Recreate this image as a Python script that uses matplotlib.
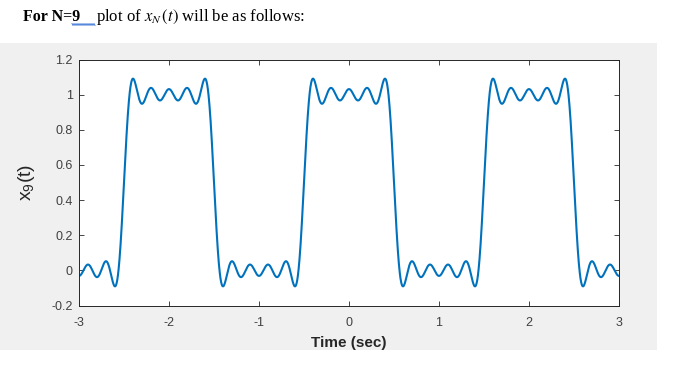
import numpy as np
import matplotlib
matplotlib.use("Agg")
import matplotlib.pyplot as plt
from matplotlib.patches import Rectangle
from matplotlib.lines import Line2D
from matplotlib.ticker import FuncFormatter

# Data: Fourier series of a 0/1 square wave (period 2 s), N = 9 harmonics
dc_value = 0.5
harmonic_numbers = [1, 2, 3, 4, 5, 6, 7, 8, 9]
harmonic_amplitudes = [0.6366, 0.0, -0.2122, 0.0, 0.1273, 0.0, -0.0909, 0.0, 0.0707]
period = 2.0
x_ticks = [-3, -2, -1, 0, 1, 2, 3]
y_ticks = [-0.2, 0, 0.2, 0.4, 0.6, 0.8, 1.0, 1.2]

t = np.linspace(-3, 3, 3001)
x = np.full_like(t, dc_value)
for k, a in zip(harmonic_numbers, harmonic_amplitudes):
    x += a * np.cos(2 * np.pi * k * t / period)

plt.rcParams["mathtext.fontset"] = "stix"

W, H = 681, 381
fig = plt.figure(figsize=(W / 100, H / 100), dpi=100)
fig.patch.set_facecolor("white")

# MATLAB-style gray figure region
fig.patches.append(Rectangle((0, 1 - 350 / H), 657 / W, (350 - 43) / H,
                             transform=fig.transFigure, facecolor="#f0f0f0",
                             edgecolor="none", zorder=-10))

ax = fig.add_axes([79 / W, 1 - 305.5 / H, (619 - 79) / W, (305.5 - 59.5) / H])
ax.set_zorder(1)
ax.set_facecolor("white")
ax.plot(t, x, color="#0072BD", linewidth=1.5)
ax.set_xlim(-3, 3)
ax.set_ylim(-0.2, 1.2)
ax.set_xticks(x_ticks)
ax.set_yticks(y_ticks)
ax.yaxis.set_major_formatter(FuncFormatter(lambda v, p: "%g" % round(v, 2)))
ax.xaxis.set_major_formatter(FuncFormatter(lambda v, p: "%g" % v))
ax.tick_params(direction="in", length=3.5, width=0.6, top=True, right=True,
               labelsize=9, labelcolor="#404040", color="#262626")
ax.tick_params(axis="x", pad=8)
ax.tick_params(axis="y", pad=4.5)
for s in ax.spines.values():
    s.set_linewidth(0.7)
    s.set_color("#262626")
for lab in ax.get_xticklabels() + ax.get_yticklabels():
    lab.set_family("Liberation Sans")

ax.set_xlabel("Time (sec)", fontsize=11, fontweight="bold", family="Liberation Sans",
              color="#262626", labelpad=5)
ax.set_ylabel("$\\mathregular{x_9(t)}$", fontsize=14, family="Liberation Sans",
              color="#262626", labelpad=10)

fig.text(23 / W, 1 - 21 / H, "For N=9", family="Liberation Serif", fontweight="bold",
         fontsize=11.5, va="baseline", ha="left")
fig.text(96 / W, 1 - 21 / H, "plot of $x_N\\,(t)$ will be as follows:",
         family="Liberation Serif", fontsize=12, va="baseline", ha="left")

# spell-check squiggle under "9"
sq = np.linspace(72, 95, 24)
fig.lines.append(Line2D(sq / W, 1 - (24.5 + 1.0 * np.where(np.arange(24) % 2 == 0, -1, 1)) / H,
                        transform=fig.transFigure, color="#4a7fd8", linewidth=0.7))

fig.savefig("out.png", dpi=100, facecolor="white")
